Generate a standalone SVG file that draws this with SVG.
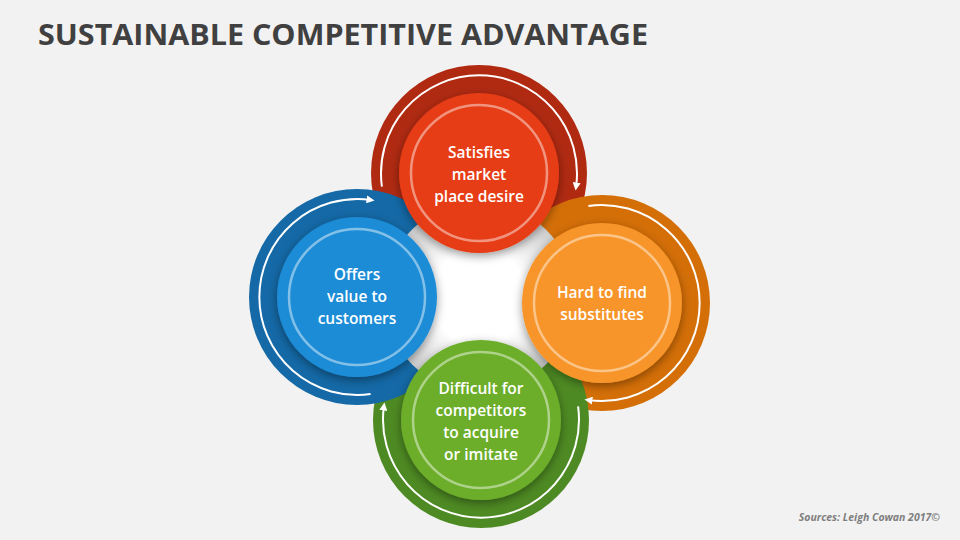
<svg xmlns="http://www.w3.org/2000/svg" width="960" height="540" viewBox="0 0 960 540">
<style>
.t{font-family:"Open Sans","Liberation Sans",sans-serif;font-weight:600;font-size:15.5px;fill:#fff;text-anchor:middle}
.arc{fill:none;stroke:#fff;stroke-width:2;marker-end:url(#ah)}
.ring{fill:none;stroke:#fff;stroke-opacity:.45;stroke-width:2.5}
</style>
<defs>
<marker id="ah" viewBox="0 0 10 10" refX="5" refY="5" markerWidth="4" markerHeight="4" orient="auto"><path d="M0,0L10,5L0,10z" fill="#fff"/></marker>
<filter id="sh" x="-30%" y="-30%" width="160%" height="160%"><feDropShadow dx="0" dy="3" stdDeviation="5" flood-color="#000" flood-opacity=".4"/></filter>
<radialGradient id="cg"><stop offset="0.5" stop-color="#fff"/><stop offset="1" stop-color="#cfcfcf"/></radialGradient>
</defs>
<rect width="960" height="540" fill="#f2f2f2"/>
<text x="38" y="45" font-family="'Open Sans','Liberation Sans',sans-serif" font-weight="700" font-size="29" fill="#404040" textLength="610" lengthAdjust="spacingAndGlyphs">SUSTAINABLE COMPETITIVE ADVANTAGE</text>
<g id="outer">
<circle cx="479" cy="173" r="108" fill="#b02a12"/>
<circle cx="602" cy="303" r="108" fill="#d46f08"/>
<circle cx="481" cy="420" r="108" fill="#4e8a23"/>
<circle cx="357" cy="297" r="108" fill="#1469a6"/>
<circle cx="479" cy="297" r="95" fill="url(#cg)"/>
</g>
<g id="connectors">
<path class="arc" d="M381.9,186.6 A98,98 0 1 1 576.1,186.6"/>
<path class="arc" d="M588.4,205.9 A98,98 0 1 1 588.4,400.1"/>
<path class="arc" d="M578.1,406.4 A98,98 0 1 1 383.9,406.4"/>
<path class="arc" d="M370.6,394.1 A98,98 0 1 1 370.6,199.9"/>
</g>
<g id="n1"><circle cx="479" cy="173" r="80" fill="#e63c16" filter="url(#sh)"/><circle class="ring" cx="479" cy="173" r="68"/>
<text class="t" x="479" y="158">Satisfies</text><text class="t" x="479" y="180">market</text><text class="t" x="479" y="202">place desire</text></g>
<g id="n2"><circle cx="602" cy="303" r="80" fill="#f7952a" filter="url(#sh)"/><circle class="ring" cx="602" cy="303" r="68"/>
<text class="t" x="602" y="298">Hard to find</text><text class="t" x="602" y="320">substitutes</text></g>
<g id="n3"><circle cx="481" cy="420" r="80" fill="#6cae2c" filter="url(#sh)"/><circle class="ring" cx="481" cy="420" r="68"/>
<text class="t" x="481" y="394">Difficult for</text><text class="t" x="481" y="416">competitors</text><text class="t" x="481" y="438">to acquire</text><text class="t" x="481" y="460">or imitate</text></g>
<g id="n4"><circle cx="357" cy="297" r="80" fill="#1e8cd6" filter="url(#sh)"/><circle class="ring" cx="357" cy="297" r="68"/>
<text class="t" x="357" y="280">Offers</text><text class="t" x="357" y="302">value to</text><text class="t" x="357" y="324">customers</text></g>
<text x="940" y="521" text-anchor="end" font-family="'Open Sans','Liberation Sans',sans-serif" font-weight="700" font-style="italic" font-size="10.5" fill="#7f7f7f">Sources: Leigh Cowan 2017©</text>
</svg>
